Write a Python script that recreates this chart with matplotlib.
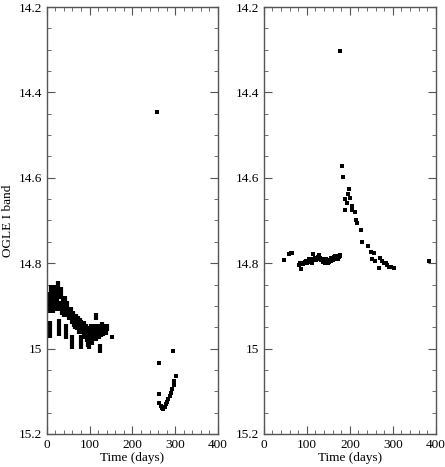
import matplotlib
matplotlib.use('Agg')
import matplotlib.pyplot as plt
from matplotlib.ticker import MultipleLocator, FuncFormatter

plt.rcParams['font.family'] = ['Liberation Serif', 'DejaVu Serif']

# --- left panel: dense cluster with vertical error bars ---
left_t = [1, 3, 5, 8, 10, 11, 14, 17, 20, 22, 25, 27, 29, 31, 33, 36, 38, 40,
          42, 44, 47, 50, 53, 56, 58, 60, 62, 64, 66, 68, 70, 72, 75, 77, 79,
          81, 84, 86, 88, 90, 92, 94, 96, 98, 100, 102, 104, 106, 108, 110,
          112, 114, 116, 118, 120, 122, 124, 126, 128, 130, 132, 135, 137,
          139, 141]
left_mag = [14.895, 14.88, 14.905, 14.955, 14.865, 14.895, 14.905, 14.89,
            14.865, 14.9, 14.885, 14.86, 14.95, 14.9, 14.87, 14.91, 14.895,
            14.915, 14.89, 14.96, 14.9, 14.915, 14.92, 14.915, 14.93, 14.985,
            14.925, 14.935, 14.94, 14.93, 14.945, 14.935, 14.95, 14.94, 14.985,
            14.945, 14.955, 14.95, 14.965, 14.96, 14.955, 14.97, 14.985, 14.99,
            14.96, 14.97, 14.955, 14.98, 14.965, 14.96, 14.955, 14.925, 14.97,
            14.96, 14.955, 14.965, 15.0, 14.96, 14.955, 14.95, 14.96, 14.955,
            14.955, 14.96, 14.95]
left_err = [0.015, 0.012, 0.012, 0.02, 0.015, 0.015, 0.012, 0.012, 0.015,
            0.012, 0.012, 0.018, 0.02, 0.012, 0.015, 0.012, 0.012, 0.012,
            0.012, 0.018, 0.012, 0.012, 0.012, 0.012, 0.012, 0.016, 0.012,
            0.015, 0.015, 0.012, 0.012, 0.012, 0.015, 0.012, 0.016, 0.012,
            0.012, 0.015, 0.012, 0.015, 0.012, 0.015, 0.012, 0.012, 0.012,
            0.015, 0.012, 0.012, 0.012, 0.012, 0.012, 0.008, 0.012, 0.012,
            0.012, 0.012, 0.01, 0.012, 0.012, 0.012, 0.01, 0.01, 0.012, 0.008,
            0.008]

# left panel: single points
left_pt_t = [152, 258, 261, 294, 262, 263, 266, 269, 272, 275, 278, 281, 284,
             287, 290, 293, 296, 298, 301]
left_pt_mag = [14.973, 14.446, 15.033, 15.005, 15.106, 15.128, 15.135, 15.14,
               15.142, 15.136, 15.13, 15.125, 15.118, 15.112, 15.103, 15.095,
               15.085, 15.076, 15.064]

# --- right panel ---
right_t = [46, 59, 63, 65,
           82, 84, 86, 88, 90, 92, 95, 97, 99, 101, 103, 105, 107, 109, 111,
           113, 115, 117, 119, 121, 123, 125, 127, 129, 131, 133, 135, 137,
           139, 141, 143, 145, 147, 149, 151, 153, 155, 157, 160, 162, 164,
           166, 168, 170, 172, 174, 176, 178,
           178, 181, 184, 188, 189, 194, 195, 198, 200, 205, 206, 211, 214,
           217, 226, 229, 242, 248, 256, 251, 259, 267, 271, 275, 279, 283,
           287, 291, 296, 302, 383]
right_mag = [14.792, 14.778, 14.777, 14.777,
             14.805, 14.8, 14.813, 14.8, 14.802, 14.8, 14.798, 14.8, 14.796,
             14.8, 14.795, 14.79, 14.798, 14.793, 14.8, 14.79, 14.778, 14.792,
             14.787, 14.793, 14.79, 14.785, 14.788, 14.78, 14.787, 14.793,
             14.79, 14.797, 14.795, 14.8, 14.793, 14.79, 14.795, 14.8, 14.797,
             14.793, 14.788, 14.795, 14.792, 14.785, 14.79, 14.782, 14.787,
             14.783, 14.79, 14.785, 14.784, 14.78,
             14.303, 14.572, 14.597, 14.65, 14.675, 14.659, 14.639, 14.626,
             14.647, 14.665, 14.676, 14.681, 14.698, 14.706, 14.722, 14.75,
             14.76, 14.774, 14.777, 14.79, 14.795, 14.812, 14.789, 14.794,
             14.799, 14.8, 14.805, 14.81, 14.81, 14.811, 14.794]

fig = plt.figure(figsize=(4.45, 4.67), dpi=100)
ax1 = fig.add_axes([0.105, 0.0707, 0.385, 0.9143])
ax2 = fig.add_axes([0.593, 0.0707, 0.3865, 0.9143])

ax1.errorbar(left_t, left_mag, yerr=left_err, fmt='s', color='black',
             ms=3, mew=0, elinewidth=3, capsize=0)
ax1.plot(left_pt_t, left_pt_mag, 's', color='black', ms=2.5, mew=0)
ax2.plot(right_t, right_mag, 's', color='black', ms=2.5, mew=0)

fmt = FuncFormatter(lambda v, p: '%g' % round(v, 2))
for ax in (ax1, ax2):
    ax.set_xlim(0, 400)
    ax.set_ylim(15.2, 14.2)
    ax.xaxis.set_major_locator(MultipleLocator(100))
    ax.xaxis.set_minor_locator(MultipleLocator(20))
    ax.yaxis.set_major_locator(MultipleLocator(0.2))
    ax.yaxis.set_minor_locator(MultipleLocator(0.05))
    ax.yaxis.set_major_formatter(fmt)
    ax.tick_params(which='both', direction='in', top=True, right=True,
                   labelsize=9.5, color='#555555')
    ax.tick_params(which='major', length=6)
    ax.tick_params(which='minor', length=3)
    for s in ax.spines.values():
        s.set_color('#555555')
        s.set_linewidth(1)
    ax.set_xlabel('Time (days)', fontsize=9.5, labelpad=1)

ax1.set_ylabel('OGLE I band', fontsize=9.5, labelpad=3)

plt.savefig('out.png', dpi=100)
plt.close()
